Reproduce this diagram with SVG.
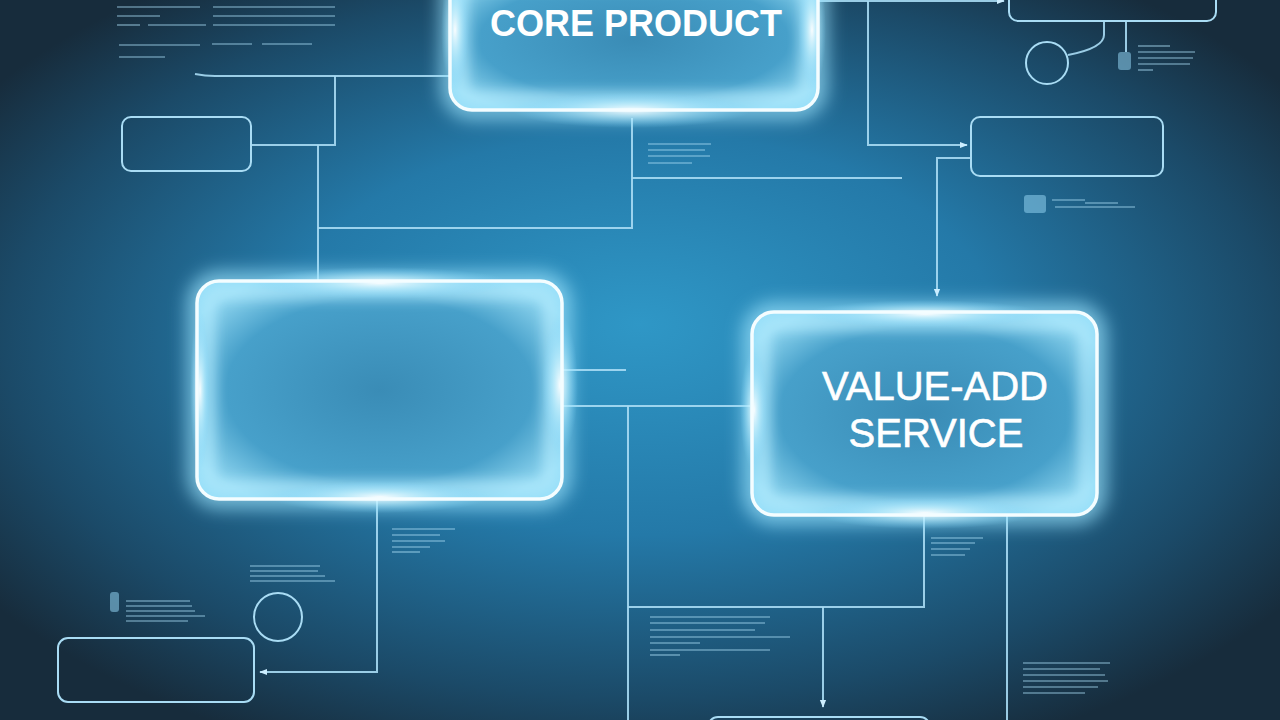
<svg xmlns="http://www.w3.org/2000/svg" width="1280" height="720" viewBox="0 0 1280 720">
<defs>
  <radialGradient id="bg" cx="50%" cy="48%" r="62%" fx="50%" fy="45%">
    <stop offset="0" stop-color="#2f97c6"/>
    <stop offset="0.45" stop-color="#2479a8"/>
    <stop offset="0.8" stop-color="#1b4a68"/>
    <stop offset="1" stop-color="#172c3c"/>
  </radialGradient>
  <radialGradient id="boxFill" cx="50%" cy="50%" r="60%">
    <stop offset="0" stop-color="#3a8cb6"/>
    <stop offset="0.7" stop-color="#47a0ca"/>
    <stop offset="1" stop-color="#8fd6f0"/>
  </radialGradient>
  <radialGradient id="hot" cx="50%" cy="50%" r="50%">
    <stop offset="0" stop-color="#ffffff" stop-opacity="0.95"/>
    <stop offset="0.4" stop-color="#c8f2ff" stop-opacity="0.6"/>
    <stop offset="1" stop-color="#7fd8ff" stop-opacity="0"/>
  </radialGradient>
  <filter id="glow" x="-30%" y="-30%" width="160%" height="160%">
    <feGaussianBlur stdDeviation="9"/>
  </filter>
  <filter id="inner" x="-10%" y="-10%" width="120%" height="120%">
    <feGaussianBlur stdDeviation="6"/>
  </filter>
  <marker id="arr" viewBox="0 0 10 10" refX="9" refY="5" markerWidth="4" markerHeight="4" orient="auto">
    <path d="M0,1 L10,5 L0,9 Z" fill="#cdeeff"/>
  </marker>
  <style>
    .ln { fill: none; stroke: #a9dcf4; stroke-width: 2; stroke-opacity: 0.9; }
    .small { fill: none; stroke: #a9dcf4; stroke-width: 2; }
    .glowStroke { fill: none; stroke: #9ee6ff; stroke-width: 18; stroke-opacity: 0.75; }
    .edge { fill: none; stroke: #f4fdff; stroke-width: 3.5; }
    .innerEdge { fill: none; stroke: #bdefff; stroke-width: 14; stroke-opacity: 0.5; }
    .label { font-family: "Liberation Sans", Arial, sans-serif; fill: #ffffff; text-anchor: middle; }
    .scrib { stroke: #a9dcf4; stroke-width: 1.6; stroke-opacity: 0.55; }
    .db { fill: #8fd0ee; fill-opacity: 0.55; }
  </style>
</defs>

<rect x="0" y="0" width="1280" height="720" fill="url(#bg)"/>

<!-- decorative scribble blocks -->
<g id="scribbles">
  <g class="scrib">
    <line x1="117" y1="7" x2="200" y2="7"/><line x1="213" y1="7" x2="335" y2="7"/>
    <line x1="117" y1="16" x2="160" y2="16"/><line x1="213" y1="16" x2="335" y2="16"/>
    <line x1="117" y1="25" x2="140" y2="25"/><line x1="148" y1="25" x2="206" y2="25"/><line x1="213" y1="25" x2="335" y2="25"/>
    <line x1="119" y1="45" x2="200" y2="45"/><line x1="212" y1="44" x2="252" y2="44"/><line x1="262" y1="44" x2="312" y2="44"/>
    <line x1="119" y1="57" x2="165" y2="57"/>
  </g>
  <g class="scrib">
    <line x1="648" y1="144" x2="711" y2="144"/><line x1="648" y1="150" x2="705" y2="150"/>
    <line x1="648" y1="156" x2="710" y2="156"/><line x1="648" y1="163" x2="692" y2="163"/>
  </g>
  <g class="scrib">
    <line x1="1138" y1="46" x2="1170" y2="46"/><line x1="1138" y1="52" x2="1195" y2="52"/>
    <line x1="1138" y1="58" x2="1193" y2="58"/><line x1="1138" y1="64" x2="1190" y2="64"/>
    <line x1="1138" y1="70" x2="1153" y2="70"/>
  </g>
  <rect class="db" x="1118" y="52" width="13" height="18" rx="3"/>
  <rect class="db" x="1024" y="195" width="22" height="18" rx="3"/>
  <g class="scrib">
    <line x1="1052" y1="200" x2="1085" y2="200"/><line x1="1085" y1="203" x2="1118" y2="203"/>
    <line x1="1055" y1="207" x2="1135" y2="207"/>
  </g>
  <g class="scrib">
    <line x1="392" y1="529" x2="455" y2="529"/><line x1="392" y1="535" x2="440" y2="535"/>
    <line x1="392" y1="541" x2="445" y2="541"/><line x1="392" y1="547" x2="430" y2="547"/>
    <line x1="392" y1="552" x2="420" y2="552"/>
  </g>
  <g class="scrib">
    <line x1="250" y1="566" x2="320" y2="566"/><line x1="250" y1="571" x2="318" y2="571"/>
    <line x1="250" y1="576" x2="325" y2="576"/><line x1="250" y1="581" x2="335" y2="581"/>
  </g>
  <rect class="db" x="110" y="592" width="9" height="20" rx="3"/>
  <g class="scrib">
    <line x1="126" y1="601" x2="190" y2="601"/><line x1="126" y1="606" x2="192" y2="606"/>
    <line x1="126" y1="611" x2="195" y2="611"/><line x1="126" y1="616" x2="205" y2="616"/>
    <line x1="126" y1="621" x2="188" y2="621"/>
  </g>
  <g class="scrib">
    <line x1="931" y1="538" x2="983" y2="538"/><line x1="931" y1="543" x2="975" y2="543"/>
    <line x1="931" y1="549" x2="970" y2="549"/><line x1="931" y1="555" x2="965" y2="555"/>
  </g>
  <g class="scrib">
    <line x1="650" y1="617" x2="770" y2="617"/><line x1="650" y1="623" x2="765" y2="623"/>
    <line x1="650" y1="630" x2="755" y2="630"/><line x1="650" y1="637" x2="790" y2="637"/>
    <line x1="650" y1="643" x2="700" y2="643"/><line x1="650" y1="650" x2="770" y2="650"/>
    <line x1="650" y1="655" x2="680" y2="655"/>
  </g>
  <g class="scrib">
    <line x1="1023" y1="663" x2="1110" y2="663"/><line x1="1023" y1="669" x2="1100" y2="669"/>
    <line x1="1023" y1="675" x2="1105" y2="675"/><line x1="1023" y1="681" x2="1108" y2="681"/>
    <line x1="1023" y1="687" x2="1098" y2="687"/><line x1="1023" y1="693" x2="1085" y2="693"/>
  </g>
</g>

<!-- connectors -->
<g id="connectors">
  <path class="ln" d="M195,74 Q205,76 215,76 L452,76"/>
  <path class="ln" d="M335,76 L335,145 L251,145"/>
  <path class="ln" d="M318,145 L318,281"/>
  <path class="ln" d="M318,228 L632,228 L632,118"/>
  <path class="ln" d="M632,178 L902,178"/>
  <path class="ln" d="M818,1 L1004,1" marker-end="url(#arr)"/>
  <path class="ln" d="M868,1 L868,145 L967,145" marker-end="url(#arr)"/>
  <path class="ln" d="M971,158 L937,158 L937,296" marker-end="url(#arr)"/>
  <path class="ln" d="M1104,21 L1104,35 Q1104,48 1068,55"/>
  <path class="ln" d="M1126,21 L1126,52"/>
  <path class="ln" d="M562,370 L626,370"/>
  <path class="ln" d="M562,406 L750,406"/>
  <path class="ln" d="M628,406 L628,720"/>
  <path class="ln" d="M628,607 L924,607 L924,515"/>
  <path class="ln" d="M823,607 L823,707" marker-end="url(#arr)"/>
  <path class="ln" d="M1007,515 L1007,720"/>
  <path class="ln" d="M377,499 L377,672 L260,672" marker-end="url(#arr)"/>
</g>

<!-- small nodes -->
<g id="node-small-tl"><rect class="small" x="122" y="117" width="129" height="54" rx="9"/></g>
<g id="node-small-tr"><rect class="small" x="1009" y="-20" width="207" height="41" rx="9"/></g>
<g id="node-small-rm"><rect class="small" x="971" y="117" width="192" height="59" rx="9"/></g>
<g id="node-small-bl"><rect class="small" x="58" y="638" width="196" height="64" rx="10"/></g>
<g id="node-small-bc"><rect class="small" x="708" y="717" width="222" height="40" rx="10"/></g>
<g id="node-circle-tr"><circle class="small" cx="1047" cy="63" r="21"/></g>
<g id="node-circle-bl"><circle class="small" cx="278" cy="617" r="24"/></g>

<!-- Core product -->
<g id="node-core">
  <rect x="450" y="-30" width="368" height="140" rx="22" fill="url(#boxFill)"/>
  <rect class="glowStroke" x="450" y="-30" width="368" height="140" rx="22" filter="url(#glow)"/>
  <rect class="innerEdge" x="462" y="-18" width="344" height="116" rx="14" filter="url(#inner)"/>
  <ellipse cx="632" cy="110" rx="120" ry="18" fill="url(#hot)"/>
  <ellipse cx="455" cy="30" rx="14" ry="60" fill="url(#hot)"/>
  <ellipse cx="812" cy="30" rx="14" ry="60" fill="url(#hot)"/>
  <rect class="edge" x="450" y="-30" width="368" height="140" rx="22"/>
  <text class="label" x="636" y="36" font-size="36" font-weight="bold">CORE PRODUCT</text>
</g>

<!-- Left big box -->
<g id="node-left">
  <rect x="197" y="281" width="365" height="218" rx="22" fill="url(#boxFill)"/>
  <rect class="glowStroke" x="197" y="281" width="365" height="218" rx="22" filter="url(#glow)"/>
  <rect class="innerEdge" x="209" y="293" width="341" height="194" rx="14" filter="url(#inner)"/>
  <ellipse cx="380" cy="283" rx="130" ry="16" fill="url(#hot)"/>
  <ellipse cx="380" cy="497" rx="110" ry="16" fill="url(#hot)"/>
  <ellipse cx="560" cy="385" rx="18" ry="70" fill="url(#hot)"/>
  <ellipse cx="200" cy="390" rx="10" ry="80" fill="url(#hot)"/>
  <rect class="edge" x="197" y="281" width="365" height="218" rx="22"/>
</g>

<!-- Value-add service -->
<g id="node-value">
  <rect x="752" y="312" width="345" height="203" rx="22" fill="url(#boxFill)"/>
  <rect class="glowStroke" x="752" y="312" width="345" height="203" rx="22" filter="url(#glow)"/>
  <rect class="innerEdge" x="764" y="324" width="321" height="179" rx="14" filter="url(#inner)"/>
  <ellipse cx="925" cy="314" rx="120" ry="14" fill="url(#hot)"/>
  <ellipse cx="925" cy="513" rx="110" ry="16" fill="url(#hot)"/>
  <ellipse cx="754" cy="410" rx="14" ry="60" fill="url(#hot)"/>
  <rect class="edge" x="752" y="312" width="345" height="203" rx="22"/>
  <text class="label" x="935" y="400" font-size="40" stroke="#ffffff" stroke-width="0.6">VALUE-ADD</text>
  <text class="label" x="936" y="447" font-size="40" stroke="#ffffff" stroke-width="0.6">SERVICE</text>
</g>
</svg>
